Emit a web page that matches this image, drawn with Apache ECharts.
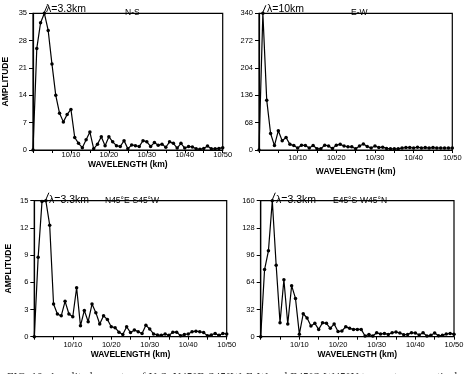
<!DOCTYPE html>
<html><head><meta charset="utf-8">
<script src="https://cdn.jsdelivr.net/npm/echarts@6/dist/echarts.min.js"></script>
<style>html,body{margin:0;padding:0;background:#fff}#c{width:474px;height:374px}</style>
</head><body><div id="c"></div>
<script>
// harmonic number k (wavelength = 10/k km)
const harmonic = [0,1,2,3,4,5,6,7,8,9,10,11,12,13,14,15,16,17,18,19,20,21,22,23,24,25,26,27,28,29,30,31,32,33,34,35,36,37,38,39,40,41,42,43,44,45,46,47,48,49,50];
const xTickLabels = ['10/10','10/20','10/30','10/40','10/50'];

const nsAmp = [0,26,32.6,35,30.6,22,14,9.4,7.2,9.1,10.4,3.2,1.7,0.6,2.6,4.6,0.3,1.5,3.4,1.1,3.4,2.1,1.1,0.9,2.4,0.3,1.3,1.1,0.9,2.4,2.1,0.9,1.9,1.2,1.5,0.7,2.1,1.7,0.5,1.7,0.5,0.9,0.8,0.3,0.2,0.4,1.0,0.3,0.3,0.4,0.6];
const ewAmp = [0,340,124,41,11,48,23,31,14,11,5,12,11,5,11,3,3,12,10,4,12,14,10,8,8,3,10,15,9,5,10,6,7,4,3,3,3,5,6,6,5,7,5,6,5,6,5,5,5,5,5];
const n45Amp = [0,8.75,14.9,15,12.3,3.6,2.5,2.3,3.9,2.5,2.2,5.4,1.2,2.9,1.65,3.6,2.65,1.4,2.3,1.9,1.1,1.0,0.5,0.25,1.1,0.45,0.75,0.55,0.35,1.25,0.85,0.3,0.2,0.15,0.3,0.15,0.5,0.5,0.1,0.25,0.3,0.55,0.6,0.55,0.45,0.1,0.2,0.35,0.15,0.35,0.3];
const e45Amp = [0,79,101,160,84,16.5,67,15,60,45,3,27,22,12.5,15.7,8.6,16.5,15.7,9.8,15,6,6.7,11.8,9.8,8.6,8.6,8.6,0.8,2.7,0.8,4.7,3.1,3.9,2.7,4.7,5.5,4.3,2.4,2.7,4.7,4.3,2,4.7,0.8,1.6,4.3,1.2,1.6,3.1,3.9,3];

const yMax = [35, 340, 15, 160];
const panelNames = ['N-S', 'E-W', 'N45°E-S45°W', 'E45°S-W45°N'];
const peakLabels = ['λ=3.3km', 'λ=10km', 'λ=3.3km', 'λ=3.3km'];
const amps = [nsAmp, ewAmp, n45Amp, e45Amp];

const FONT = 'Liberation Sans';
const INK = '#000';

const layout = [
  {left:31.7, top:13.3, width:191, height:136.7, lblM:1, nameGap:8, yName:true, yGap:23, nameX:120, nameY:3, lamX:41, lamY:-1},
  {left:259, top:13.3, width:193.3, height:136.7, lblM:3.5, nameGap:17, yName:false, yGap:23, nameX:346, nameY:3, lamX:262, lamY:-1},
  {left:34.3, top:200.7, width:192.4, height:136, lblM:4.5, nameGap:13.5, yName:true, yGap:21, nameX:100, nameY:191, lamX:44, lamY:189.5},
  {left:260.7, top:200.7, width:193.3, height:136, lblM:4, nameGap:13, yName:false, yGap:21, nameX:328, nameY:191, lamX:271, lamY:189.5}
];

const grids = [], xAxes = [], yAxes = [], series = [], titles = [];
layout.forEach((L, i) => {
  grids.push({left:L.left, top:L.top, width:L.width, height:L.height, show:true,
    borderColor:INK, borderWidth:1.2, backgroundColor:'transparent'});
  xAxes.push({gridIndex:i, type:'value', min:0, max:50, interval:5,
    axisLine:{lineStyle:{color:INK, width:1.2}},
    axisTick:{show:true, length:3, lineStyle:{color:INK, width:1}},
    splitLine:{show:false},
    axisLabel:{color:INK, fontSize:7.5, fontFamily:FONT, margin:L.lblM,
      formatter: v => (v > 0 && v % 10 === 0) ? xTickLabels[v/10 - 1] : ''},
    name:'WAVELENGTH (km)', nameLocation:'middle', nameGap:L.nameGap,
    nameTextStyle:{color:INK, fontSize:8.5, fontFamily:FONT, fontWeight:'bold'}
  });
  yAxes.push({gridIndex:i, type:'value', min:0, max:yMax[i], interval:yMax[i]/5,
    axisLine:{show:true, lineStyle:{color:INK, width:1.2}},
    axisTick:{show:true, length:4, lineStyle:{color:INK, width:1}},
    splitLine:{show:false},
    axisLabel:{color:INK, fontSize:7.5, fontFamily:FONT, margin:6},
    name: L.yName ? 'AMPLITUDE' : '', nameLocation:'middle', nameRotate:90, nameGap:L.yGap,
    nameTextStyle:{color:INK, fontSize:8.5, fontFamily:FONT, fontWeight:'bold'}
  });
  series.push({type:'line', xAxisIndex:i, yAxisIndex:i,
    data: harmonic.map((h, j) => [h, amps[i][j]]),
    symbol:'circle', symbolSize:3.5, showSymbol:true,
    lineStyle:{color:INK, width:1.2}, itemStyle:{color:INK},
    animation:false, clip:false});
  titles.push({text:panelNames[i], left:L.nameX, top:L.nameY,
    textStyle:{color:INK, fontSize:8.5, fontWeight:'normal', fontFamily:FONT}});
  titles.push({text:peakLabels[i], left:L.lamX, top:L.lamY,
    textStyle:{color:INK, fontSize:10.5, fontWeight:'normal', fontFamily:FONT}});
});
titles.push({text:'FIG. 10. Amplitude spectra of N-S, N45°E-S45°W, E-W and E45°S-W45°N transects, respectively,',
  left:2, top:367, textStyle:{color:'#333', fontSize:11.5, fontWeight:'normal', fontFamily:'Liberation Serif'}});

const chart = echarts.init(document.getElementById('c'), null, {renderer:'canvas'});
chart.setOption({backgroundColor:'#fff', animation:false, title:titles, grid:grids, xAxis:xAxes, yAxis:yAxes, series:series});

// little pointer strokes from peak labels down to the peak points
const strokes = [];
amps.forEach((arr, i) => {
  let pk = 0;
  arr.forEach((v, j) => { if (v > arr[pk]) pk = j; });
  const p = chart.convertToPixel({gridIndex:i}, [harmonic[pk], arr[pk]]);
  strokes.push({type:'line', shape:{x1:p[0], y1:p[1]-1, x2:p[0]+3, y2:p[1]-8},
    style:{stroke:INK, lineWidth:1}});
});
chart.setOption({graphic:strokes});
</script></body></html>
